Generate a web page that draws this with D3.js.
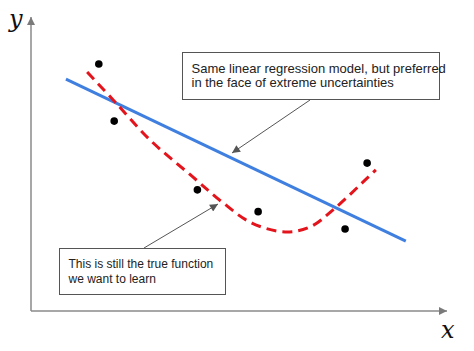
<!DOCTYPE html>
<html><head><meta charset="utf-8">
<script src="https://cdn.jsdelivr.net/npm/d3@7"></script>
<style>body{margin:0;background:#fff;}svg{display:block;}</style>
</head><body>
<svg id="chart" width="474" height="351"></svg>
<script>
// data (abstract units, 0..100 on both axes)
const pointsX = [16.3, 20.0, 40.0, 54.6, 75.5, 80.8];
const pointsY = [84.0, 64.6, 41.2, 33.8, 27.9, 50.3];
const regX = [8.4, 90.1];
const regY = [78.9, 23.8];
const trueX = [13.5, 20.2, 28.6, 38.9, 45.9, 53.1, 61.1, 67.1, 73.1, 80.8, 82.9];
const trueY = [81.3, 71.1, 58.2, 45.6, 37.1, 29.9, 26.9, 28.6, 35.0, 45.2, 48.0];
const note1 = ["Same linear regression model, but preferred", "in the face of extreme uncertainties"];
const note2 = ["This is still the true function", "we want to learn"];

const svg = d3.select("#chart");
const x = d3.scaleLinear().domain([0, 100]).range([31, 447]);
const y = d3.scaleLinear().domain([0, 100]).range([311, 17]);

const defs = svg.append("defs");
function marker(id, color, w, h) {
  defs.append("marker").attr("id", id).attr("viewBox", "0 0 10 10")
    .attr("refX", 10).attr("refY", 5).attr("markerWidth", w).attr("markerHeight", h)
    .attr("markerUnits", "userSpaceOnUse").attr("orient", "auto")
    .append("path").attr("d", "M0,0L10,5L0,10z").attr("fill", color);
}
marker("axArrow", "#7a7a7a", 10, 8);
marker("noteArrow", "#555", 10, 8);

// axes
svg.append("line").attr("x1", x(0)).attr("y1", y(0)).attr("x2", x(100)).attr("y2", y(0))
  .attr("stroke", "#8a8a8a").attr("stroke-width", 1.5).attr("marker-end", "url(#axArrow)");
svg.append("line").attr("x1", x(0)).attr("y1", y(0)).attr("x2", x(0)).attr("y2", y(100))
  .attr("stroke", "#8a8a8a").attr("stroke-width", 1.5).attr("marker-end", "url(#axArrow)");

svg.append("text").attr("x", 9).attr("y", 27).text("y")
  .attr("font-family", "'DejaVu Serif', serif").attr("font-style", "italic").attr("font-size", 24).attr("fill", "#111");
svg.append("text").attr("x", 441).attr("y", 338).text("x")
  .attr("font-family", "'DejaVu Serif', serif").attr("font-style", "italic").attr("font-size", 24).attr("fill", "#111");

// regression line
svg.append("line").attr("x1", x(regX[0])).attr("y1", y(regY[0])).attr("x2", x(regX[1])).attr("y2", y(regY[1]))
  .attr("stroke", "#3f7fe0").attr("stroke-width", 3);

// true function
const trueData = trueX.map((v, i) => [v, trueY[i]]);
svg.append("path").datum(trueData)
  .attr("d", d3.line().x(d => x(d[0])).y(d => y(d[1])).curve(d3.curveCatmullRom))
  .attr("fill", "none").attr("stroke", "#e3141c").attr("stroke-width", 3)
  .attr("stroke-dasharray", "10,6");

// points
svg.selectAll("circle.pt").data(pointsX.map((v, i) => [v, pointsY[i]])).enter()
  .append("circle").attr("class", "pt").attr("cx", d => x(d[0])).attr("cy", d => y(d[1]))
  .attr("r", 3.8).attr("fill", "#000");

// annotation 1
svg.append("rect").attr("x", 182.5).attr("y", 52.5).attr("width", 257).attr("height", 47)
  .attr("fill", "#fff").attr("stroke", "#555").attr("stroke-width", 1);
svg.append("text").attr("font-family", "'Liberation Sans', Arial, sans-serif").attr("font-size", 13).attr("fill", "#222")
  .selectAll("tspan").data(note1).enter().append("tspan")
  .attr("x", 191.5).attr("y", (d, i) => 72.5 + i * 14).text(d => d);
svg.append("line").attr("x1", 310).attr("y1", 100).attr("x2", 232).attr("y2", 153)
  .attr("stroke", "#555").attr("stroke-width", 1).attr("marker-end", "url(#noteArrow)");

// annotation 2
svg.append("rect").attr("x", 59.5).attr("y", 248.5).attr("width", 166).attr("height", 46)
  .attr("fill", "#fff").attr("stroke", "#555").attr("stroke-width", 1);
svg.append("text").attr("font-family", "'Liberation Sans', Arial, sans-serif").attr("font-size", 12).attr("fill", "#222")
  .selectAll("tspan").data(note2).enter().append("tspan")
  .attr("x", 68.5).attr("y", (d, i) => 267.5 + i * 15).text(d => d);
svg.append("line").attr("x1", 144).attr("y1", 248).attr("x2", 218).attr("y2", 204)
  .attr("stroke", "#555").attr("stroke-width", 1).attr("marker-end", "url(#noteArrow)");
</script>
</body></html>
